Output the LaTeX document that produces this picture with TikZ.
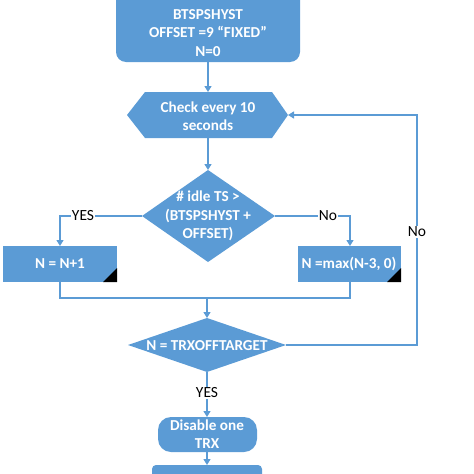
\documentclass[tikz,border=0pt]{standalone}
\usepackage{fontspec}
\setmainfont{Carlito}
\usetikzlibrary{arrows.meta}
\definecolor{fblue}{HTML}{5B9BD5}
\definecolor{lblue}{HTML}{5B9BD5}
\tikzset{
  shapefill/.style={fill=fblue, draw=none},
  boxtext/.style={text=white, font=\fontsize{15.2}{18.3}\selectfont\bfseries, align=center, inner sep=0pt},
  lbl/.style={text=black, font=\fontsize{15.5}{18}\selectfont, fill=white, inner sep=1pt},
  conn/.style={draw=lblue, line width=1.4pt},
  arr/.style={conn, -{Triangle[width=7pt,length=6pt]}},
  corner/.style={fill=black, draw=none}
}
\begin{document}
\begin{tikzpicture}[x=1pt,y=-1pt]
\useasboundingbox (0,0) rectangle (474,474);
\begin{scope}
\clip (0,0) rectangle (474,474);
% top box
\fill[fblue, rounded corners=10pt] (116,-30) rectangle (300,62);
\node[boxtext] (start) at (208,33) {BTSPSHYST\\OFFSET =9 “FIXED”\\N=0};
\coordinate (startS) at (208,62);
% hexagon
\fill[fblue] (127,115) -- (145,92) -- (272,92) -- (288,115) -- (272,138) -- (145,138) -- cycle;
\node[boxtext] (check) at (208,116) {Check every 10\\seconds};
\coordinate (checkN) at (208,92);
\coordinate (checkS) at (208,138);
\coordinate (checkE) at (288,115);
% diamond 1
\fill[fblue] (142,216) -- (208,170) -- (275,216) -- (208,262) -- cycle;
\node[boxtext] (idle) at (208,216) {\# idle TS >\\(BTSPSHYST +\\OFFSET)};
\coordinate (idleN) at (208,170);
\coordinate (idleW) at (142,216);
\coordinate (idleE) at (275,216);
% left box
\fill[fblue] (3,246) rectangle (117,282);
\fill[corner] (117,268) -- (117,282) -- (103,282) -- cycle;
\node[boxtext] (inc) at (60,264) {N = N+1};
\coordinate (incN) at (60,246);
\coordinate (incS) at (60,282);
% right box
\fill[fblue] (298,246) rectangle (401,282);
\fill[corner] (401,268) -- (401,282) -- (387,282) -- cycle;
\node[boxtext] (dec) at (349,264) {N =max(N-3, 0)};
\coordinate (decN) at (350,246);
\coordinate (decS) at (350,282);
% diamond 2
\fill[fblue] (128,345) -- (207,318) -- (286,345) -- (207,372) -- cycle;
\node[boxtext] (target) at (207,346) {N = TRXOFFTARGET};
\coordinate (targetN) at (207,318);
\coordinate (targetS) at (207,372);
\coordinate (targetE) at (286,345);
% disable box
\fill[fblue, rounded corners=13pt] (158,417) rectangle (257,452);
\node[boxtext] (disable) at (207,434) {Disable one\\TRX};
\coordinate (disableN) at (207,417);
\coordinate (disableS) at (207,452);
% last box (cut off)
\fill[fblue, rounded corners=4pt] (152,465) rectangle (262,500);
\coordinate (lastN) at (207,465);
% connectors
\draw[arr] (startS) -- (checkN);
\draw[arr] (checkS) -- (idleN);
\draw[arr] (idleW) -- (60,216) -- (incN);
\draw[arr] (idleE) -- (350,216) -- (decN);
\draw[conn] (incS) -- (60,298) -- (350,298) -- (decS);
\coordinate (join) at (207,298);
\draw[arr] (join) -- (targetN);
\draw[arr] (targetE) -- (417,345) -- (417,115) -- (checkE);
\draw[arr] (targetS) -- (disableN);
\draw[arr] (disableS) -- (lastN);
% labels
\node[lbl] (yes1) at (83,216) {YES};
\node[lbl] (no1) at (328,216) {No};
\node[lbl] (no2) at (417,232) {No};
\node[lbl] (yes2) at (207,393) {YES};
\end{scope}
\end{tikzpicture}
\end{document}
